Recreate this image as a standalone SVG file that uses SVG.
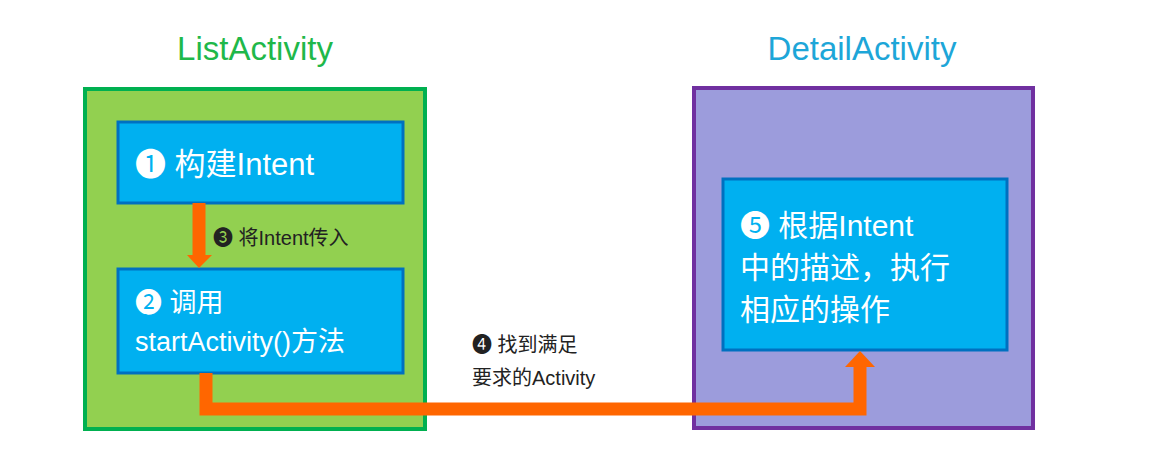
<svg xmlns="http://www.w3.org/2000/svg" width="1171" height="471" viewBox="0 0 1171 471">
<style>
text{font-family:"Liberation Sans","Noto Sans CJK SC",sans-serif}
.t{font-size:33px}
.w{fill:#fff}
.step{fill:#00b0f0;stroke:#0070c0;stroke-width:3}
.lbl{font-size:20px;fill:#222}
.head{fill:#ff6600}
</style>
<rect width="1171" height="471" fill="#fff"/>
<g id="list">
<rect x="85" y="89" width="340" height="340" fill="#92d050" stroke="#00b050" stroke-width="4"/>
<text x="255" y="60" text-anchor="middle" class="t" fill="#1fb84a">ListActivity</text>
</g>
<g id="detail">
<rect x="694" y="88" width="339" height="340" fill="#9c9cdc" stroke="#7030a0" stroke-width="4"/>
<text x="862" y="60" text-anchor="middle" class="t" fill="#1da6d8">DetailActivity</text>
</g>
<g id="step1">
<rect class="step" x="118" y="122" width="285" height="81"/>
<text x="135" y="175" class="w" font-size="31">❶  构建Intent</text>
</g>
<g id="step2">
<rect class="step" x="118" y="269" width="285" height="104"/>
<text x="135" y="312" class="w" font-size="27">❷  调用</text>
<text x="135" y="351" class="w" font-size="27">startActivity()方法</text>
</g>
<g id="step5">
<rect class="step" x="723" y="179" width="284" height="171"/>
<text x="740" y="236" class="w" font-size="30">❺ 根据Intent</text>
<text x="740" y="278" class="w" font-size="30">中的描述，执行</text>
<text x="740" y="320" class="w" font-size="30">相应的操作</text>
</g>
<g id="connectors">
<path d="M199,203 V256" fill="none" stroke="#ff6600" stroke-width="13"/>
<polygon class="head" points="187,255 212,255 199,268"/>
<path d="M206,373 V409 H860 V366" fill="none" stroke="#ff6600" stroke-width="13" stroke-linejoin="miter"/>
<polygon class="head" points="845,367 875,367 860,351"/>
</g>
<g id="labels">
<text x="213" y="245" class="lbl">❸ 将Intent传入</text>
<text x="472" y="352" class="lbl">❹ 找到满足</text>
<text x="472" y="385" class="lbl">要求的Activity</text>
</g>
</svg>
